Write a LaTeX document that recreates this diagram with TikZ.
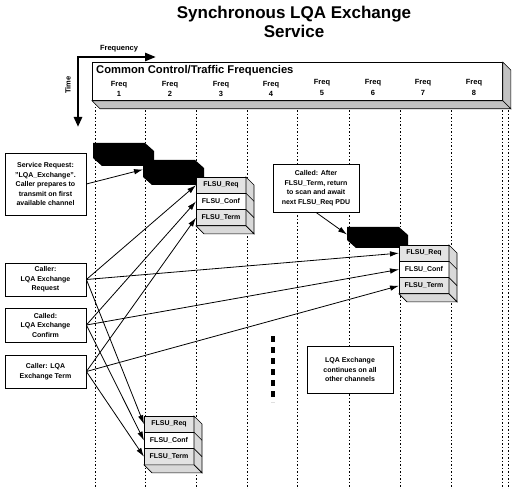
\documentclass[tikz,border=0pt]{standalone}
\usepackage{fontspec}
\setmainfont{Liberation Sans}
\usetikzlibrary{positioning,arrows.meta}
\definecolor{rowgray}{gray}{0.89}
\definecolor{facegray}{gray}{0.85}
\definecolor{sidegray}{gray}{0.76}
\tikzset{
  note/.style={draw, fill=white, line width=0.8pt, align=center, inner sep=1pt,
    font=\bfseries\fontsize{7}{9.5}\selectfont},
  row/.style={draw, line width=0.8pt, outer sep=0pt, inner sep=0pt,
    minimum width=50pt, minimum height=16.3pt, font=\bfseries\fontsize{7}{8}\selectfont},
  face/.style={fill=facegray, draw, line width=0.6pt},
  chanline/.style={line width=0.7pt, dash pattern=on 1.5pt off 2pt},
  link/.style={-{Latex[length=9pt,width=5.5pt]}, line width=0.8pt},
  axis/.style={line width=2.5pt, {Triangle[length=10pt,width=8pt]}-{Triangle[length=11pt,width=8pt]}},
}
\begin{document}
\begin{tikzpicture}[x=1pt,y=-1pt]
\useasboundingbox (0,0) rectangle (517,489);
% Title
\node[font=\bfseries\fontsize{17}{19}\selectfont, align=center] (title) at (294,22) {Synchronous LQA Exchange\\Service};

% Channel lines
\foreach \x in {95,145,196,247,297,349,400,451,502,508}
  \draw[chanline] (\x,100) -- (\x,489);

% Time / frequency axes
\coordinate (origin) at (78,57);
\coordinate (tend) at (78,127);
\coordinate (fend) at (156,57);
\draw[axis] (tend) -- (origin) -- (fend);
\node[font=\bfseries\fontsize{7.5}{9}\selectfont] (freqlbl) at (119,49) {Frequency};
\node[font=\bfseries\fontsize{7.5}{9}\selectfont, rotate=90] (timelbl) at (68,85) {Time};

% Header box with its 3D faces
\node[draw, fill=white, line width=0.8pt, inner sep=0pt, anchor=north west,
  minimum width=410pt, minimum height=38pt] (hdr) at (92,62) {};
\filldraw[face, fill=sidegray] (hdr.north east) -- ++(8,8) -- ([shift={(8,8)}]hdr.south east) -- (hdr.south east) -- cycle;
\filldraw[face, fill=sidegray] (hdr.south west) -- ++(8,8) -- ([shift={(8,8)}]hdr.south east) -- (hdr.south east) -- cycle;
\node[anchor=west, inner sep=0pt, font=\bfseries\fontsize{11.2}{12}\selectfont] (hdrtitle) at (96,71) {Common Control/Traffic Frequencies};
\foreach \i/\x/\y in {1/119/89,2/170/89,3/221/89,4/271/89,5/322/87.5,6/373/87.5,7/423/87.5,8/474/87.5}
  \node[font=\bfseries\fontsize{7.5}{10.5}\selectfont, align=center] (f\i) at (\x,\y) {Freq\\\i};

% Hops (black)
\foreach \h/\x/\y/\hh in {1/93/143/23, 2/143/160/25, 3/347/227/21} {
  \fill[black] (\x,\y) -- ++(52,0) -- ++(9,8) -- ++(0,\hh-8) -- ++(-52,0) -- ++(-9,-8) -- cycle;
  \coordinate (hop\h) at (\x,{\y+\hh/2-3});
}

% FLSU PDU stacks
\foreach \s/\x/\y in {a/196/177, b/399/245, c/144/416} {
  \node[row, fill=rowgray, anchor=north west] (req\s) at (\x,\y) {FLSU\_Req};
  \node[row, fill=white, below=0pt of req\s] (conf\s) {FLSU\_Conf};
  \node[row, fill=rowgray, below=0pt of conf\s] (term\s) {FLSU\_Term};
  \filldraw[face] (req\s.north east) -- ++(8,8) -- ([shift={(8,8)}]term\s.south east) -- (term\s.south east) -- cycle;
  \filldraw[face] (term\s.south west) -- ++(8,8) -- ([shift={(8,8)}]term\s.south east) -- (term\s.south east) -- cycle;
  \draw[line width=0.6pt] (conf\s.north east) -- ++(8,8) (term\s.north east) -- ++(8,8);
}

% Notes
\node[note, minimum width=81pt, minimum height=62pt] (svc) at (45.5,184)
  {Service Request:\\"LQA\_Exchange".\\Caller prepares to\\transmit on first\\available channel};
\node[note, minimum width=81pt, minimum height=33pt] (callreq) at (45.5,279.5)
  {Caller:\\LQA Exchange\\Request};
\node[note, minimum width=81pt, minimum height=34pt] (callconf) at (45.5,325)
  {Called:\\LQA Exchange\\Confirm};
\node[note, minimum width=81pt, minimum height=33pt] (callterm) at (45.5,371.5)
  {Caller: LQA\\Exchange Term};
\node[note, minimum width=86pt, minimum height=48pt] (calledafter) at (316,188)
  {Called: After\\FLSU\_Term, return\\to scan and await\\next FLSU\_Req PDU};
\node[note, minimum width=86pt, minimum height=47pt] (continues) at (350,369.5)
  {LQA Exchange\\continues on all\\other channels};

% more channels
\draw[line width=4pt, dash pattern=on 6pt off 5pt] (273,336) -- (273,402);

% Connectors
\foreach \src/\kind in {callreq/req, callconf/conf, callterm/term}
  \foreach \s in {a,b,c}
    \draw[link] (\src.east) -- (\kind\s.west);
\draw[link] (svc.east) -- (hop2);
\draw[link] (calledafter.south) -- (hop3);
\end{tikzpicture}
\end{document}
